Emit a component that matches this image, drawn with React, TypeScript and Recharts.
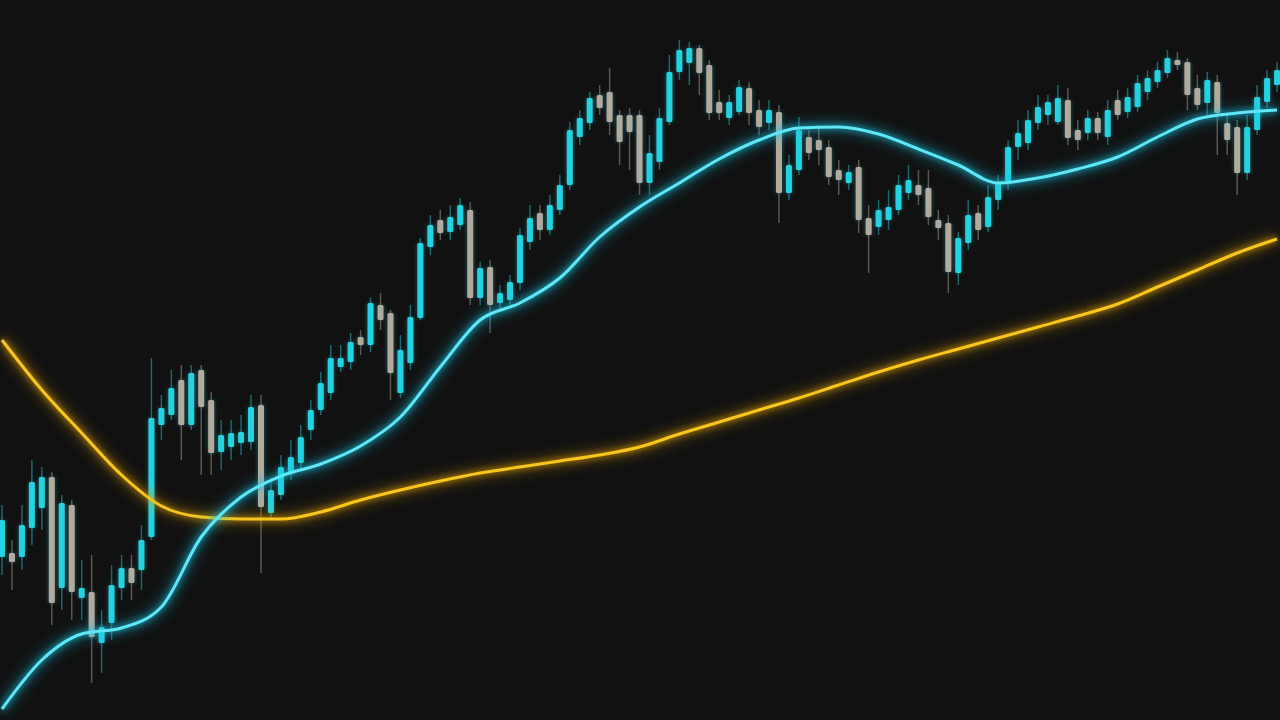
import React from 'react';
import { ComposedChart, Bar, Line, XAxis, YAxis } from 'recharts';

// price units (candle index 0..128)
const opens = [163, 167, 163, 192, 212, 243, 132, 215, 122, 128, 77, 97, 132, 152, 150, 183, 295, 305, 340, 295, 350, 320, 268, 273, 277, 278, 315, 207, 225, 248, 257, 290,
  310, 327, 353, 358, 383, 375, 415, 407, 327, 357, 402, 473, 500, 488, 495, 510, 422, 453, 417, 420, 437, 478, 507, 490, 510,
  535, 583, 597, 625, 628, 605, 605, 605, 537, 558, 598, 648, 657, 672, 655, 618, 602, 608, 632, 610,
  597, 608, 527, 550, 583, 580, 573, 550, 537, 553,
  502, 493, 500, 510, 527, 535, 532, 500, 497, 447, 477, 507, 493, 520, 537, 573, 577, 597, 605, 598, 620, 590, 587, 602, 583, 620, 608, 613, 628, 638, 647, 660, 658, 632, 617, 638, 597, 593, 547, 590, 618, 635];
const closes = [200, 158, 195, 238, 243, 117, 217, 128, 132, 83, 93, 135, 152, 137, 180, 302, 312, 332, 295, 347, 313, 267, 285, 287, 288, 313, 213, 230, 253, 263, 283, 310,
  337, 362, 362, 378, 375, 417, 400, 347, 370, 403, 477, 495, 487, 503, 515, 422, 452, 415, 427, 438, 485, 502, 490, 515, 535,
  590, 602, 622, 612, 598, 578, 588, 537, 567, 602, 648, 670, 672, 647, 607, 607, 618, 633, 607, 593,
  610, 527, 555, 590, 567, 570, 543, 540, 548, 500,
  485, 510, 513, 535, 540, 525, 503, 492, 448, 482, 505, 490, 523, 537, 573, 587, 600, 613, 618, 622, 582, 580, 602, 587, 610, 605, 623, 637, 642, 650, 662, 655, 625, 615, 640, 607, 580, 547, 593, 623, 642, 650];
const highs = [215, 180, 215, 260, 253, 248, 225, 220, 160, 165, 110, 155, 165, 165, 195, 362, 325, 350, 355, 355, 355, 328, 300, 300, 305, 325, 325, 242, 265, 280, 295, 320,
  348, 375, 375, 387, 390, 423, 427, 410, 385, 415, 482, 505, 510, 515, 522, 518, 458, 460, 435, 445, 492, 515, 515, 525, 545,
  598, 610, 628, 635, 652, 610, 612, 610, 585, 612, 665, 680, 678, 675, 660, 630, 625, 640, 638, 620,
  620, 615, 565, 603, 590, 595, 580, 560, 555, 560,
  515, 520, 530, 545, 555, 550, 550, 510, 505, 488, 520, 515, 535, 545, 580, 600, 610, 625, 625, 635, 632, 600, 610, 608, 620, 630, 632, 645, 650, 658, 670, 668, 662, 645, 648, 645, 605, 600, 605, 635, 650, 658];
const lows = [145, 130, 150, 175, 190, 95, 110, 100, 100, 37, 47, 80, 120, 120, 130, 180, 280, 300, 260, 290, 245, 245, 250, 260, 265, 270, 147, 200, 220, 240, 250, 280,
  305, 320, 348, 350, 365, 368, 390, 320, 322, 350, 400, 465, 480, 480, 490, 415, 415, 387, 410, 415, 430, 470, 480, 485, 505,
  530, 575, 590, 605, 585, 555, 550, 525, 525, 550, 595, 640, 635, 625, 600, 600, 595, 605, 595, 585,
  590, 497, 520, 545, 560, 555, 535, 525, 530, 487,
  447, 485, 490, 505, 520, 515, 495, 480, 427, 435, 470, 480, 488, 510, 530, 560, 570, 590, 595, 595, 575, 570, 580, 580, 575, 600, 602, 608, 620, 632, 642, 650, 610, 610, 605, 565, 565, 525, 540, 585, 612, 628];

// moving averages, read every 4th candle
const maStep = 4;
const fastMa = [11, 60, 86, 92, 113, 183, 223, 244, 256, 274, 303, 353, 400, 417, 442, 483, 513, 537, 561, 580, 592, 593, 586, 571, 555, 537, 542, 551, 563, 583, 601, 607, 610];
const slowMa = [380, 330, 287, 245, 214, 203, 201, 201, 208, 220, 230, 239, 247, 253, 259, 265, 273, 286, 298, 310, 322, 335, 348, 360, 371, 382, 393, 404, 416, 433, 450, 467, 481];

const UP = '#22d3e2';
const DOWN = '#b3aa9e';
const FAST = '#5fe6f7';
const SLOW = '#f8c61e';

const data = opens.map((o, i) => ({
  i,
  open: o,
  close: closes[i],
  high: highs[i],
  low: lows[i],
  fast: i % maStep === 0 ? fastMa[i / maStep] : null,
  slow: i % maStep === 0 ? slowMa[i / maStep] : null,
}));

const Candle = (props: any) => {
  const { x, y, width, height, payload } = props;
  const top = Math.min(y, y + height);
  const h = Math.abs(height);
  const span = payload.high - payload.low || 1;
  const ppu = h / span;
  const hi = Math.max(payload.open, payload.close);
  const lo = Math.min(payload.open, payload.close);
  const by = top + (payload.high - hi) * ppu;
  const bh = Math.max(2, (hi - lo) * ppu);
  const cx = x + width / 2;
  const color = payload.close >= payload.open ? UP : DOWN;
  return (
    <g>
      <line x1={cx} x2={cx} y1={top} y2={top + h} stroke={color} strokeWidth={1.5} strokeOpacity={0.45} />
      <rect className="body" x={cx - 3} y={by} width={6} height={bh} rx={1.5} fill={color} />
    </g>
  );
};

const css = `
  .body { filter: drop-shadow(0 0 2px rgba(60, 220, 235, 0.4)); }
  path[stroke="${FAST}"] { filter: drop-shadow(0 0 3px #19c6e6) drop-shadow(0 0 7px rgba(25,198,230,0.7)); }
  path[stroke="${SLOW}"] { filter: drop-shadow(0 0 3px #e5a400) drop-shadow(0 0 7px rgba(229,164,0,0.7)); }
`;

export default function App() {
  return (
    <div style={{ position: 'fixed', left: 0, top: 0, width: 1280, height: 720, background: '#111111', overflow: 'hidden' }}>
      <style>{css}</style>
      <div style={{ position: 'absolute', left: -3, top: 0 }}>
        <ComposedChart width={1285} height={720} data={data} margin={{ top: 0, right: 0, bottom: 0, left: 0 }}>
          <XAxis dataKey="i" hide />
          <YAxis hide domain={[0, 720]} />
          <Bar dataKey={(d: any) => [d.low, d.high]} barSize={6} shape={<Candle />} isAnimationActive={false} />
          <Line type="monotone" dataKey="slow" stroke={SLOW} strokeWidth={3} dot={{ r: 0, strokeWidth: 0 }} activeDot={false} connectNulls isAnimationActive={false} />
          <Line type="monotone" dataKey="fast" stroke={FAST} strokeWidth={3} dot={{ r: 0, strokeWidth: 0 }} activeDot={false} connectNulls isAnimationActive={false} />
        </ComposedChart>
      </div>
    </div>
  );
}
